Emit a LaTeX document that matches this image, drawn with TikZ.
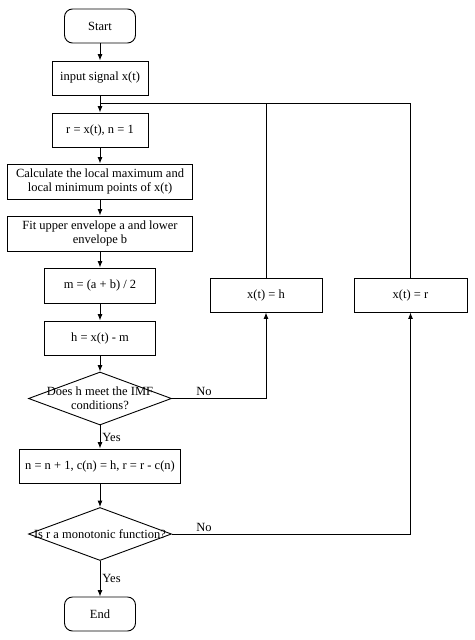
\documentclass[tikz,border=0pt]{standalone}
\usepackage{fontspec}
\setmainfont{Liberation Serif}
\usetikzlibrary{arrows.meta, shapes.geometric, positioning}

\begin{document}
\begin{tikzpicture}[x=1pt,y=1pt,>={Latex[length=6.5pt,width=5pt]},line width=0.9pt,node distance=52pt,
  font=\fontsize{12.5}{14}\selectfont,
  terminal/.style={draw,rounded corners=8pt,minimum width=71pt,minimum height=34pt},
  process/.style={draw,minimum height=34pt,align=center,inner sep=2pt},
  decision/.style={draw,diamond,minimum width=143pt,minimum height=53pt,inner sep=0pt},
  answer/.style={inner sep=2pt}]
\useasboundingbox (0,0) rectangle (474,-640);
% define the main column
  \node[terminal]	(start) at (100,-26)	{Start};
  \node[process, minimum width=96pt]	(input) [below of=start]	{input signal x(t)};
  \node[process, minimum width=96pt]	(init) [below of=input]	{r = x(t), n = 1};
  \node[process, minimum width=185pt, minimum height=35pt]	(extrema) [below of=init, node distance=51.5pt]	{Calculate the local maximum and\\local minimum points of x(t)};
  \node[process, minimum width=185pt, minimum height=35pt]	(envelope) [below of=extrema]	{Fit upper envelope a and lower\\envelope b};
  \node[process, minimum width=111pt, minimum height=35pt]	(mean) [below of=envelope]	{m = (a + b) / 2};
  \node[process, minimum width=111pt]	(diff) [below of=mean, node distance=52.5pt]	{h = x(t) - m};
  \node[decision, label={[align=center]center:Does h meet the IMF\\conditions?}]	(imf) [below of=diff, node distance=60.5pt]	{};
  \node[process, minimum width=161pt]	(update) [below of=imf, node distance=67.5pt]	{n = n + 1, c(n) = h, r = r - c(n)};
  \node[decision, label=center:Is r a monotonic function?]	(mono) [below of=update, node distance=68pt]	{};
  \node[terminal]	(end) [below of=mono, node distance=80pt]	{End};

% define the feedback boxes
  \node[process, minimum width=112pt]	(seth) at (266,-295)	{x(t) = h};
  \node[process, minimum width=113pt]	(setr) at (410.5,-295)	{x(t) = r};
  \coordinate (join) at (100,-103);

% define the links
  \draw[->] (start) -- (input);
  \draw[->] (input) -- (init);
  \draw[->] (init) -- (extrema);
  \draw[->] (extrema) -- (envelope);
  \draw[->] (envelope) -- (mean);
  \draw[->] (mean) -- (diff);
  \draw[->] (diff) -- (imf);
  \draw[->] (imf) -- node[answer, right] {Yes} (update);
  \draw[->] (update) -- (mono);
  \draw[->] (mono) -- node[answer, right] {Yes} (end);
  \draw[->] (imf.east) -| node[answer, pos=0.17, above] {No} (seth.south);
  \draw[->] (mono.east) -| node[answer, pos=0.067, above] {No} (setr.south);
  \draw (seth.north) |- (join);
  \draw (setr.north) |- (join);
\end{tikzpicture}
\end{document}
